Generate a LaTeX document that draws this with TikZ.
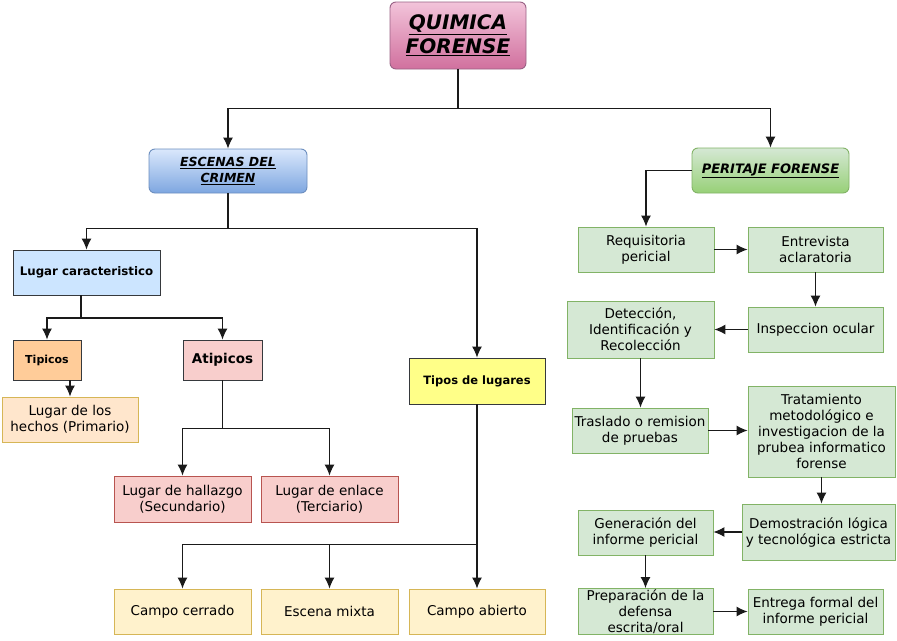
\documentclass[tikz,border=0pt]{standalone}
\usepackage{fontspec}
\setmainfont{DejaVu Sans}
\usetikzlibrary{arrows.meta}
\definecolor{linegray}{HTML}{1A1A1A}
\definecolor{darkedge}{HTML}{36393D}
\definecolor{pinktop}{HTML}{F2C4DA}
\definecolor{pinkbot}{HTML}{D1709E}
\definecolor{pinkedge}{HTML}{996185}
\definecolor{bluetop}{HTML}{DAE8FC}
\definecolor{bluebot}{HTML}{7EA6E0}
\definecolor{blueedge}{HTML}{6C8EBF}
\definecolor{greentop}{HTML}{D5E8D4}
\definecolor{greenbot}{HTML}{97D077}
\definecolor{greenedge}{HTML}{82B366}
\definecolor{greenfill}{HTML}{D5E8D4}
\definecolor{lightblue}{HTML}{CCE5FF}
\definecolor{orangefill}{HTML}{FFCC99}
\definecolor{peachfill}{HTML}{FFE6CC}
\definecolor{redfill}{HTML}{F8CECC}
\definecolor{rededge}{HTML}{B85450}
\definecolor{yellowfill}{HTML}{FFFF88}
\definecolor{creamfill}{HTML}{FFF2CC}
\definecolor{goldedge}{HTML}{D6B656}
\tikzset{
  box/.style={draw=#1, line width=0.9pt, inner sep=1pt, align=center, font=\fontsize{13.5}{16}\selectfont},
  titlebox/.style={rounded corners=6pt, line width=0.9pt, inner sep=1pt, align=center},
  stepgreen/.style={box=greenedge, fill=greenfill},
  arr/.style={draw=linegray, line width=1.1pt, -{Latex[length=11pt,width=10pt]}},
  con/.style={draw=linegray, line width=1.1pt}
}
\begin{document}
\begin{tikzpicture}[x=1pt,y=-1pt]
\useasboundingbox[fill=white] (0,0) rectangle (897,640);
\node[titlebox, draw=pinkedge, top color=pinktop, bottom color=pinkbot, minimum width=136pt, minimum height=67pt, font=\fontsize{20}{24}\selectfont\bfseries\itshape] (qf) at (458,35.5) {\underline{QUIMICA}\\\underline{FORENSE}};
\node[titlebox, draw=blueedge, top color=bluetop, bottom color=bluebot, minimum width=158pt, minimum height=44pt, font=\fontsize{12.5}{16}\selectfont\bfseries\itshape] (esc) at (228,171) {\underline{ESCENAS DEL}\\\underline{CRIMEN}};
\node[titlebox, draw=greenedge, top color=greentop, bottom color=greenbot, minimum width=157pt, minimum height=45pt, font=\fontsize{13}{16}\selectfont\bfseries\itshape] (per) at (770.5,170.5) {\underline{PERITAJE FORENSE}};
\node[box=darkedge, fill=lightblue, minimum width=147pt, minimum height=45pt, font=\fontsize{11.8}{14}\selectfont\bfseries] (lugc) at (86.5,272.5) {Lugar caracteristico};
\node[box=darkedge, fill=orangefill, minimum width=68pt, minimum height=40pt, font=\fontsize{11}{14}\selectfont\bfseries] (tip) at (47,360) {Tipicos};
\node[box=darkedge, fill=redfill, minimum width=79pt, minimum height=40pt, font=\fontsize{13.5}{16}\selectfont\bfseries] (atip) at (222.5,360) {Atipicos};
\node[box=goldedge, fill=peachfill, minimum width=136pt, minimum height=45pt] (hechos) at (70,419.5) {Lugar de los\\hechos (Primario)};
\node[box=darkedge, fill=yellowfill, minimum width=136pt, minimum height=46pt, font=\fontsize{11.5}{14}\selectfont\bfseries] (tipos) at (477,381) {Tipos de lugares};
\node[box=rededge, fill=redfill, minimum width=137pt, minimum height=46pt] (hall) at (182.5,499) {Lugar de hallazgo\\(Secundario)};
\node[box=rededge, fill=redfill, minimum width=137pt, minimum height=46pt] (enl) at (329.5,499) {Lugar de enlace\\(Terciario)};
\node[box=goldedge, fill=creamfill, minimum width=137pt, minimum height=45pt] (cerr) at (182.5,611.5) {Campo cerrado};
\node[box=goldedge, fill=creamfill, minimum width=137pt, minimum height=45pt] (mixta) at (329.5,611.5) {Escena mixta};
\node[box=goldedge, fill=creamfill, minimum width=136pt, minimum height=45pt] (abie) at (477,611.5) {Campo abierto};
\node[stepgreen, minimum width=136pt, minimum height=45pt] (req) at (646,249.5) {Requisitoria\\pericial};
\node[stepgreen, minimum width=135pt, minimum height=45pt] (ent) at (815.5,249.5) {Entrevista\\aclaratoria};
\node[stepgreen, minimum width=135pt, minimum height=45pt] (insp) at (815.5,329.5) {Inspeccion ocular};
\node[stepgreen, minimum width=147pt, minimum height=57pt] (det) at (640.5,329.5) {Detección,\\Identificación y\\Recolección};
\node[stepgreen, minimum width=136pt, minimum height=45pt] (tras) at (640,430.5) {Traslado o remision\\de pruebas};
\node[stepgreen, minimum width=147pt, minimum height=91pt] (trat) at (821.5,431.5) {Tratamiento\\metodológico e\\investigacion de la\\prubea informatico\\forense};
\node[stepgreen, minimum width=153pt, minimum height=56pt, inner sep=0pt] (dem) at (818.5,532) {Demostración lógica\\y tecnológica estricta};
\node[stepgreen, minimum width=135pt, minimum height=45pt] (gen) at (645.5,532.5) {Generación del\\informe pericial};
\node[stepgreen, minimum width=135pt, minimum height=45pt] (prep) at (645.5,611.5) {Preparación de la\\defensa\\escrita/oral};
\node[stepgreen, minimum width=135pt, minimum height=45pt] (entr) at (815.5,611.5) {Entrega formal del\\informe pericial};
\coordinate (qfj) at ([yshift=-39pt]qf.south);
\coordinate (escj) at ([yshift=-35pt]esc.south);
\coordinate (lugj) at (81,318);
\coordinate (atipj) at ([yshift=-48pt]atip.south);
\coordinate (tiposj) at ([yshift=-140pt]tipos.south);
\path[con] (qf.south) -- (qfj);
\path[arr] (qfj) -| (esc.north);
\path[arr] (qfj) -| (per.north);
\path[con] (esc.south) -- (escj);
\path[arr] (escj) -| (lugc.north);
\path[arr] (escj) -| (tipos.north);
\path[con] (lugc.south -| lugj) -- (lugj);
\path[arr] (lugj) -| (tip.north);
\path[arr] (lugj) -| (atip.north);
\path[arr] (tip.south -| hechos.north) -- (hechos.north);
\path[con] (atip.south) -- (atipj);
\path[arr] (atipj) -| (hall.north);
\path[arr] (atipj) -| (enl.north);
\path[con] (tipos.south) -- (tiposj);
\path[arr] (tiposj) -| (cerr.north);
\path[arr] (tiposj -| mixta.north) -- (mixta.north);
\path[arr] (tiposj) -- (abie.north);
\path[arr] (per.west) -| (req.north);
\path[arr] (req.east) -- (ent.west);
\path[arr] (ent.south) -- (insp.north);
\path[arr] (insp.west) -- (det.east);
\path[arr] (det.south) -- (tras.north -| det.south);
\path[arr] (tras.east) -- (trat.west |- tras.east);
\path[arr] (trat.south) -- (dem.north -| trat.south);
\path[arr] (dem.west) -- (gen.east |- dem.west);
\path[arr] (gen.south) -- (prep.north);
\path[arr] (prep.east) -- (entr.west);
\end{tikzpicture}
\end{document}
